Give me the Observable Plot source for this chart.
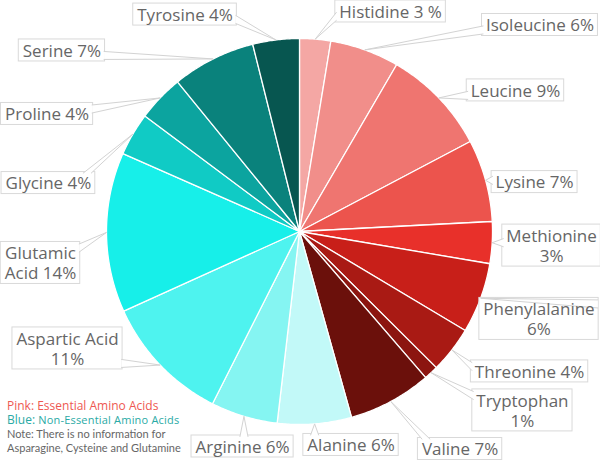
<!DOCTYPE html>
<html><head><meta charset="utf-8">
<script src="https://cdn.jsdelivr.net/npm/d3@7"></script>
<script src="https://cdn.jsdelivr.net/npm/@observablehq/plot@0.6"></script>
<style>
body{margin:0;background:#fff;}
#wrap{position:relative;width:600px;height:463px;overflow:hidden;}
#legend{position:absolute;left:7px;top:399px;font-family:"Open Sans",sans-serif;line-height:14px;white-space:nowrap;}
#legend div{height:14px;}
</style></head><body>
<div id="wrap"><div id="chart"></div>
<div id="legend">
  <div style="color:#ee5852;font-size:12px">Pink: Essential Amino Acids</div>
  <div style="color:#2aaaa5;font-size:12px">Blue: <span style="font-size:11px;letter-spacing:0.2px">Non-Essential Amino Acids</span></div>
  <div style="color:#666;font-size:11px;font-family:Lato">Note: There is no information for</div>
  <div style="color:#666;font-size:11px;font-family:Lato">Asparagine, Cysteine and Glutamine</div>
</div></div>
<script>
// ---- data ----
const names = ["Histidine","Isoleucine","Leucine","Lysine","Methionine","Phenylalanine","Threonine","Tryptophan","Valine","Alanine","Arginine","Aspartic Acid","Glutamic Acid","Glycine","Proline","Serine","Tyrosine"];
const values = [2.6, 5.8, 8.9, 6.9, 3.5, 5.9, 3.9, 1.2, 7.0, 6.2, 5.6, 10.8, 13.4, 3.6, 3.9, 7.0, 3.9];
const labels = ["Histidine 3 %","Isoleucine 6%","Leucine 9%","Lysine 7%","Methionine\n3%","Phenylalanine\n6%","Threonine 4%","Tryptophan\n1%","Valine 7%","Alanine 6%","Arginine 6%","Aspartic Acid\n11%","Glutamic\nAcid 14%","Glycine 4%","Proline 4%","Serine 7%","Tyrosine 4%"];
const colors = ["#f4a7a4","#f18e8a","#ef7570","#ec544d","#e8302a","#c81f19","#a91a14","#8c1510","#6b100b","#c2f9f8","#85f5f2","#4ef3ef","#17efe9","#10cbc5","#0ca49f","#0a827c","#075650"];
// label box centres, in pie-radius units (layout of the callouts)
const labelX = [0.472, 1.246, 1.119, 1.218, 1.306, 1.241, 1.192, 1.155, 0.832, 0.267, -0.295, -1.202, -1.342, -1.301, -1.308, -1.231, -0.593];
const labelY = [1.140, 1.070, 0.731, 0.256, -0.073, -0.453, -0.725, -0.927, -1.127, -1.106, -1.114, -0.606, -0.163, 0.251, 0.609, 0.938, 1.124];

// ---- layout ----
const W = 600, H = 463, CX = 299, CY = 231, R = 193;
const FONT = "Open Sans", FS = 17, LH = 20;
const toUx = px => (px - CX) / R, toUy = py => (CY - py) / R;
const toPx = ux => CX + ux * R, toPy = uy => CY - uy * R;

const arcs = d3.pie().sort(null).value(d => d)(values);

// slice polygons
const slicePts = [];
arcs.forEach((a, i) => {
  slicePts.push({name: names[i], x: 0, y: 0});
  const n = Math.max(2, Math.ceil((a.endAngle - a.startAngle) / (Math.PI / 360)));
  for (let k = 0; k <= n; k++) {
    const t = a.startAngle + (a.endAngle - a.startAngle) * k / n;
    slicePts.push({name: names[i], x: Math.sin(t), y: Math.cos(t)});
  }
  slicePts.push({name: names[i], x: 0, y: 0});
});

// measure label text
const ctx = document.createElement("canvas").getContext("2d");
ctx.font = `${FS}px "${FONT}"`;
const boxes = labels.map((lab, i) => {
  const lines = lab.split("\n");
  const w = Math.max(...lines.map(l => ctx.measureText(l).width)) + 8;
  const h = lines.length * LH + 2;
  const cx = toPx(labelX[i]), cy = toPy(labelY[i]);
  return {name: names[i], text: lab, x: labelX[i], y: labelY[i],
    x0: cx - w / 2, x1: cx + w / 2, y0: cy - h / 2, y1: cy + h / 2};
});

// callout pointers
const pointerPts = [];
arcs.forEach((a, i) => {
  const m = (a.startAngle + a.endAngle) / 2;
  const ax = toPx(Math.sin(m)), ay = toPy(Math.cos(m));
  const b = boxes[i];
  const dxOut = Math.max(b.x0 - ax, ax - b.x1, 0);
  const dyOut = Math.max(b.y0 - ay, ay - b.y1, 0);
  let p1, p2;
  if (dxOut >= dyOut) {
    const ex = ax < b.x0 ? b.x0 + 1 : b.x1 - 1;
    const ey = Math.min(Math.max(ay, b.y0 + 6), b.y1 - 6);
    p1 = [ex, ey - 4]; p2 = [ex, ey + 4];
  } else {
    const ey = ay < b.y0 ? b.y0 + 1 : b.y1 - 1;
    const ex = Math.min(Math.max(ax, b.x0 + 8), b.x1 - 8);
    p1 = [ex - 4, ey]; p2 = [ex + 4, ey];
  }
  [p1, [ax, ay], p2].forEach(p => pointerPts.push({name: names[i], x: toUx(p[0]), y: toUy(p[1])}));
});

const chart = Plot.plot({
  width: W, height: H, margin: 0,
  style: {background: "white", overflow: "visible"},
  x: {domain: [toUx(0), toUx(W)], axis: null},
  y: {domain: [toUy(H), toUy(0)], axis: null},
  color: {domain: names, range: colors},
  marks: [
    Plot.line(slicePts, {x: "x", y: "y", z: "name", fill: "name", stroke: "white", strokeWidth: 1.3, strokeLinejoin: "round", curve: "linear"}),
    Plot.rect(boxes, {x1: d => toUx(d.x0), x2: d => toUx(d.x1), y1: d => toUy(d.y1), y2: d => toUy(d.y0), fill: "white", stroke: "#d9d9d9", strokeWidth: 1}),
    Plot.line(pointerPts, {x: "x", y: "y", z: "name", fill: "white", stroke: "#d3d3d3", strokeWidth: 1, curve: "linear"}),
    Plot.text(boxes, {x: "x", y: "y", text: "text", fontSize: FS, fontFamily: FONT, fill: "#666", lineHeight: LH / FS, textAnchor: "middle", lineAnchor: "middle"})
  ]
});
document.getElementById("chart").appendChild(chart);
</script>
</body></html>
